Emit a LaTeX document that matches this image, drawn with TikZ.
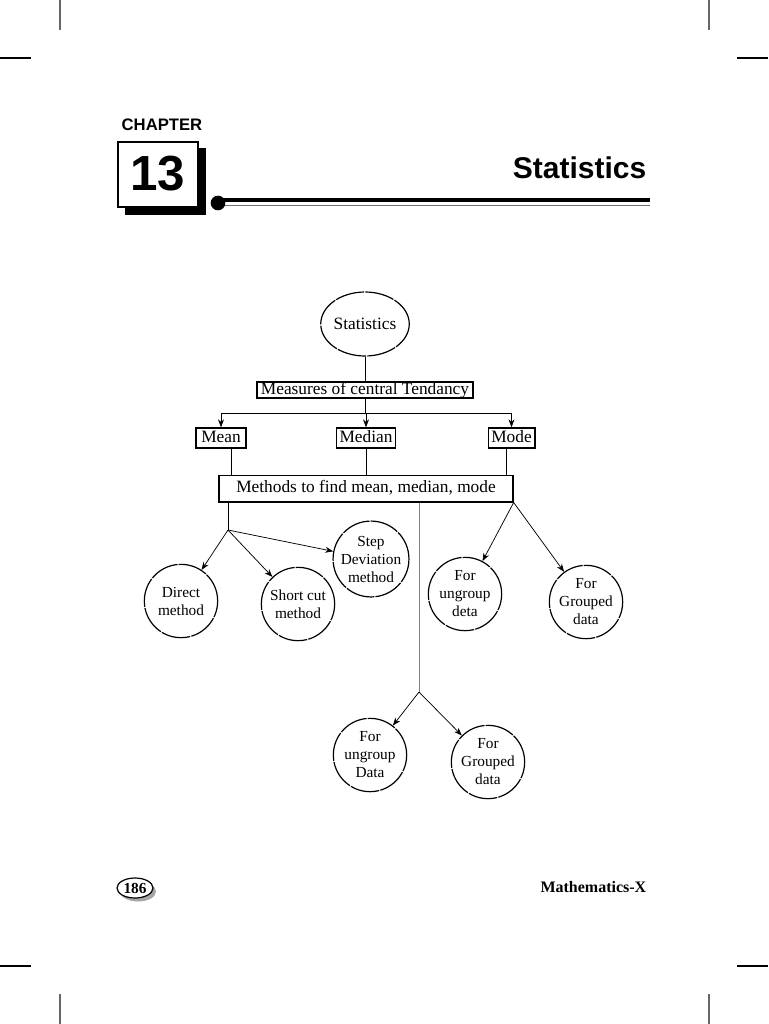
\documentclass[tikz,border=0pt]{standalone}
\usepackage{fontspec}
\setmainfont{Liberation Serif}
\newfontfamily\headfont{Liberation Sans}
\usepackage{tikz}
\usetikzlibrary{shapes.geometric, arrows.meta}
\tikzset{
  topic/.style={ellipse, draw, line width=0.9pt, dash pattern=on 22pt off 0.9pt, minimum width=64.5pt, minimum height=48pt, inner sep=0pt, font=\fontsize{13}{15}\selectfont},
  item/.style={rectangle, draw, line width=1pt, inner sep=0pt, text height=9.5pt, text depth=3pt, font=\fontsize{13}{15}\selectfont},
  method/.style={circle, draw, line width=0.9pt, dash pattern=on 22pt off 0.9pt, minimum size=55pt, inner sep=0pt, align=center, font=\fontsize{11.5}{13.5}\selectfont},
  link/.style={line width=0.7pt},
  arrow/.style={line width=0.55pt, -{Stealth[length=6pt, width=4.5pt]}},
  cropmark/.style={line width=1.1pt, black!60},
  head/.style={font=\headfont\bfseries}
}

\begin{document}
\begin{tikzpicture}[x=0.75pt, y=-0.75pt]
		\useasboundingbox (0,0) rectangle (768,1024);
		% crop marks
		\foreach \x in {60,709} {
			\draw[cropmark] (\x,0) -- (\x,30);
			\draw[cropmark] (\x,994) -- (\x,1024);
		}
		\foreach \y in {58,966} {
			\draw[cropmark, black] (0,\y) -- (31,\y);
			\draw[cropmark, black] (737,\y) -- (768,\y);
		}
		% chapter heading
		\node[head, anchor=west, font=\headfont\bfseries\fontsize{12.5}{14}\selectfont] (chap) at (117,125) {CHAPTER};
		\fill[black] (125,148) rectangle (206,215);
		\draw[fill=white, line width=0.9pt] (118,142) rectangle (198,207);
		\node[head, font=\headfont\bfseries\fontsize{37}{40}\selectfont] (num) at (158,174) {13};
		\node[head, anchor=east, font=\headfont\bfseries\fontsize{22.5}{26}\selectfont] (title) at (651,168) {Statistics};
		\coordinate (dot) at (218,203);
		\coordinate (rule) at (650,200);
		\draw[line width=3pt] (dot |- rule) -- (rule);
		\draw[line width=1.1pt, black!55] (225,205.5) -- (650,205.5);
		\fill[black] (dot) circle (5.5pt);

		% chart
		\node[topic] (stat) at (365,324) {Statistics};
		\node[item, minimum width=162pt, line width=1.3pt] (measures) at (365,390) {Measures of central Tendancy};
		\node[item, minimum width=37.5pt, minimum height=15pt] (mean) at (221,438) {Mean};
		\node[item, minimum width=44pt, minimum height=15pt] (median) at (366,438) {Median};
		\node[item, minimum width=35pt, minimum height=15pt] (mode) at (511.5,438) {Mode};
		\node[item, minimum width=220.5pt, minimum height=20pt] (methods) at (366,488.5) {Methods to find mean, median, mode};

		\node[method] (direct) at (181,601) {Direct\\method};
		\node[method] (short) at (298,604) {Short cut\\method};
		\node[method] (stepdev) at (371,559) {Step\\Deviation\\method};
		\node[method] (ungroupA) at (465,594) {For\\ungroup\\deta};
		\node[method] (groupedA) at (586,602) {For\\Grouped\\data};
		\node[method] (ungroupB) at (370,755) {For\\ungroup\\Data};
		\node[method] (groupedB) at (488,762) {For\\Grouped\\data};

		\coordinate (bar) at (365,413);
		\coordinate (lsplit) at (228,530);
		\coordinate (msplit) at (419,692);

		\draw[link] (stat) -- (measures);
		\draw[link] (measures.south) -- (bar);
		\draw[link] (mean.north |- bar) -- (mode.north |- bar);
		\foreach \n in {mean,median,mode} \draw[arrow] (\n.north |- bar) -- (\n.north);

		\draw[link] ([xshift=7.5pt]mean.south) -- ([xshift=7.5pt]mean.south |- methods.north);
		\draw[link] (median.south) -- (median.south |- methods.north);
		\draw[link] ([xshift=-3.5pt]mode.south) -- ([xshift=-3.5pt]mode.south |- methods.north);

		\draw[link] (methods.south -| lsplit) -- (lsplit);
		\foreach \n in {direct,short,stepdev} \draw[arrow] (lsplit) -- (\n);
		\foreach \n in {ungroupA,groupedA} \draw[arrow] (methods.south east) -- (\n);
		\draw[link, black!50] (methods.south -| msplit) -- (msplit);
		\foreach \n in {ungroupB,groupedB} \draw[arrow] (msplit) -- (\n);

		% page footer
		\fill[black!35] (138,891.5) ellipse (13.5pt and 7.5pt);
		\node[ellipse, draw, fill=white, line width=0.9pt, minimum width=27pt, minimum height=15pt, inner sep=0pt, font=\bfseries\fontsize{11.5}{13}\selectfont] (page) at (135,888) {186};
		\node[anchor=east, font=\bfseries\fontsize{12}{14}\selectfont] (book) at (651,887) {Mathematics-X};
	\end{tikzpicture}
\end{document}
